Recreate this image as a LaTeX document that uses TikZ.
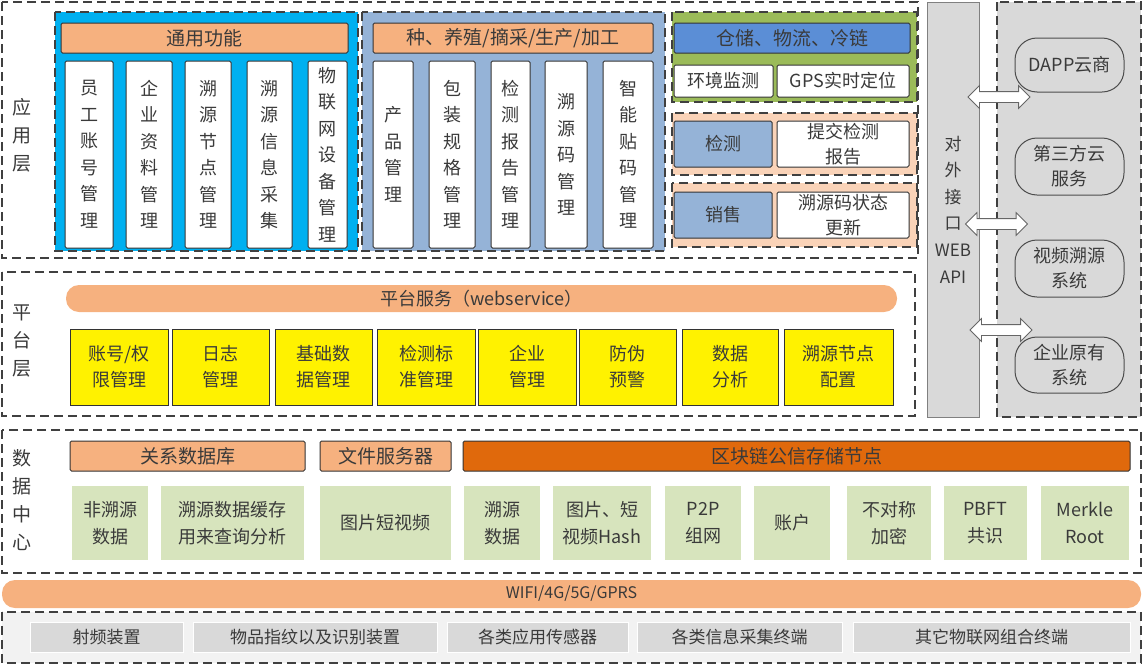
\documentclass[tikz,border=0pt]{standalone}
\usepackage{fontspec}
\setmainfont{Noto Sans CJK SC}
\usetikzlibrary{shapes.arrows}
\definecolor{cyanbg}{HTML}{00B0F0}
\definecolor{slatebg}{HTML}{95B3D7}
\definecolor{olivebg}{HTML}{9BBB59}
\definecolor{peachbg}{HTML}{FAD3B8}
\definecolor{hdorange}{HTML}{F6B17F}
\definecolor{hdblue}{HTML}{5B8ED6}
\definecolor{rust}{HTML}{E0690C}
\definecolor{leaf}{HTML}{D7E4BD}
\definecolor{ink}{HTML}{3A3A3A}

\begin{document}
\begin{tikzpicture}[x=1pt, y=-1pt,
  font=\fontsize{18}{26}\selectfont, text=ink,
  zone/.style={draw=black!75, line width=1.4pt, dash pattern=on 9pt off 5pt},
  hdr/.style={draw=black!80, line width=1pt, fill=hdorange, rounded corners=1.5pt, minimum height=30pt, inner sep=0pt, font=\fontsize{19}{22}\selectfont},
  colbox/.style={draw=black!80, line width=1pt, fill=white, rounded corners=1.5pt, minimum height=187pt, inner sep=0pt, align=center, font=\fontsize{18}{26.5}\selectfont},
  cellbox/.style={draw=black!80, line width=1pt, rounded corners=1.5pt, inner sep=0pt, align=center, font=\fontsize{18}{25}\selectfont},
  fnbox/.style={draw=black!80, line width=1pt, fill=yellow, minimum height=76pt, inner sep=0pt, align=center},
  storebox/.style={fill=leaf, minimum height=74pt, inner sep=0pt, align=center, font=\fontsize{18}{27}\selectfont},
  devbox/.style={fill=black!15, draw=white, minimum height=30pt, inner sep=0pt, font=\fontsize{17}{20}\selectfont},
  extbox/.style={draw=black!70, line width=1pt, rounded corners=22pt, minimum width=109pt, inner sep=0pt, align=center, font=\fontsize{18}{25}\selectfont},
  linkarrow/.style={double arrow, draw=black!60, fill=white, line width=0.8pt, minimum height=62pt, inner xsep=0pt, inner ysep=5pt, double arrow head extend=6pt},
  lyrlabel/.style={align=center, font=\fontsize{19}{28}\selectfont},
  pillbar/.style={fill=hdorange, rounded corners=13pt, inner sep=0pt}
]
\useasboundingbox (0,0) rectangle (1143,667);
% application layer
\draw[zone] (2,2) rectangle (918,258);
\node[lyrlabel] (app) at (22,135) {应\\用\\层};
\draw[zone, fill=cyanbg] (55,12) rectangle (358,251);
\draw[zone, fill=slatebg] (362,12) rectangle (665,251);
\draw[zone, fill=olivebg] (672,12) rectangle (917,102);
\draw[zone, fill=peachbg] (672,113) rectangle (917,175);
\draw[zone, fill=peachbg] (672,183) rectangle (917,247);
\node[hdr, minimum width=287pt] (common) at (204.5,38) {通用功能};
\foreach \x/\w/\t [count=\i] in {89/48/{员\\工\\账\\号\\管\\理}, 149/46/{企\\业\\资\\料\\管\\理},
    208/46/{溯\\源\\节\\点\\管\\理}, 269.5/45/{溯\\源\\信\\息\\采\\集}, 327.5/39/{物\\联\\网\\设\\备\\管\\理}}
  \node[colbox, minimum width=\w pt] (ca\i) at (\x,154.5) {\t};
\node[hdr, minimum width=280pt] (prod) at (513,38) {种、养殖/摘采/生产/加工};
\foreach \x/\w/\t [count=\i] in {393/40/{产\\品\\管\\理}, 452/46/{包\\装\\规\\格\\管\\理},
    510.5/39/{检\\测\\报\\告\\管\\理}, 566/42/{溯\\源\\码\\管\\理}, 628/50/{智\\能\\贴\\码\\管\\理}}
  \node[colbox, minimum width=\w pt] (cb\i) at (\x,154.5) {\t};
\node[hdr, fill=hdblue, minimum width=236pt] (logi) at (792,38) {仓储、物流、冷链};
\node[cellbox, fill=white, minimum width=99pt, minimum height=32pt] (env) at (723.5,81) {环境监测};
\node[cellbox, fill=white, minimum width=132pt, minimum height=32pt] (gps) at (843,81) {GPS实时定位};
\node[cellbox, fill=slatebg, minimum width=98pt, minimum height=46pt] (insp) at (723,144) {检测};
\node[cellbox, fill=white, minimum width=132pt, minimum height=46pt] (report) at (843,144) {提交检测\\报告};
\node[cellbox, fill=slatebg, minimum width=98pt, minimum height=46pt] (sale) at (723,215) {销售};
\node[cellbox, fill=white, minimum width=132pt, minimum height=46pt] (codeupd) at (843,215) {溯源码状态\\更新};
% external interface
\draw[zone, fill=black!15] (997,2) rectangle (1141,417);
\node[draw=black!50, line width=1pt, fill=black!15, minimum width=52pt, minimum height=415pt, align=center,
  font=\fontsize{17}{26.6}\selectfont] (api) at (953,209.5) {对\\外\\接\\口\\WEB\\API};
\node[extbox, minimum height=54pt] (dapp) at (1069.5,65) {DAPP云商};
\node[extbox, minimum height=57pt] (cloud) at (1069.5,166.5) {第三方云\\服务};
\node[extbox, minimum height=57pt] (video) at (1069.5,268.5) {视频溯源\\系统};
\node[extbox, minimum height=56pt] (legacy) at (1069.5,365) {企业原有\\系统};
\node[linkarrow] (l1) at (999,97) {};
\node[linkarrow] (l2) at (996.5,224) {};
\node[linkarrow] (l3) at (1001,330) {};
% platform layer
\draw[zone] (2,272) rectangle (915,416);
\node[lyrlabel] (plat) at (22,341) {平\\台\\层};
\node[pillbar, minimum width=831pt, minimum height=27pt] (ws) at (481.5,298.5) {平台服务（webservice）};
\foreach \x/\w/\t [count=\i] in {119/98/{账号/权\\限管理}, 220.5/97/{日志\\管理}, 323.5/97/{基础数\\据管理},
    426/98/{检测标\\准管理}, 527/98/{企业\\管理}, 627.5/97/{防伪\\预警}, 730/96/{数据\\分析}, 838.5/109/{溯源节点\\配置}}
  \node[fnbox, minimum width=\w pt] (f\i) at (\x,367) {\t};
% data center
\draw[zone] (2,430) rectangle (1141,573);
\node[lyrlabel] (data) at (22,500) {数\\据\\中\\心};
\node[hdr, minimum width=235pt] (rdb) at (187.5,456) {关系数据库};
\node[hdr, minimum width=131pt] (fs) at (385.5,456) {文件服务器};
\node[hdr, fill=rust, minimum width=667pt] (chain) at (796.5,456) {区块链公信存储节点};
\foreach \x/\w/\t [count=\i] in {110/76/{非溯源\\数据}, 232.5/143/{溯源数据缓存\\用来查询分析}, 385.5/131/{图片短视频},
    502/76/{溯源\\数据}, 602/98/{图片、短\\视频Hash}, 703/76/{P2P\\组网}, 792/76/{账户},
    889/84/{不对称\\加密}, 985.5/83/{PBFT\\共识}, 1085/88/{Merkle\\Root}}
  \node[storebox, minimum width=\w pt] (s\i) at (\x,523) {\t};
% network and devices
\node[pillbar, minimum width=1139pt, minimum height=28pt, font=\fontsize{16}{18}\selectfont] (net) at (571.5,594) {WIFI/4G/5G/GPRS};
\draw[zone, fill=black!5] (2,612) rectangle (1141,663);
\foreach \x/\w/\t [count=\i] in {106.5/153/射频装置, 315/244/物品指纹以及识别装置, 537.5/181/各类应用传感器,
    739.5/205/各类信息采集终端, 991.5/277/其它物联网组合终端}
  \node[devbox, minimum width=\w pt] (d\i) at (\x,637) {\t};
\end{tikzpicture}
\end{document}
